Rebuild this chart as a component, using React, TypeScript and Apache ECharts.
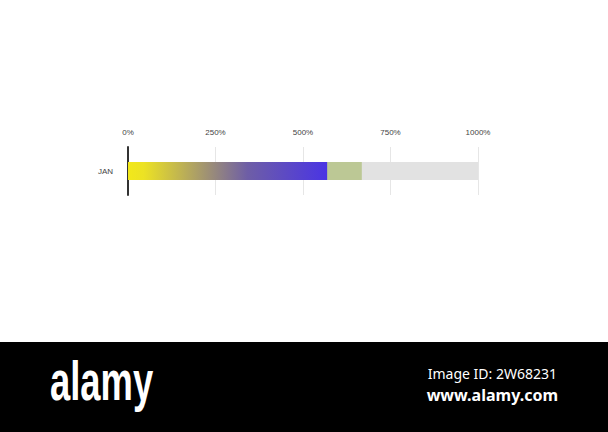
import React, { useEffect, useRef } from "react";
import * as echarts from "echarts";

const categories = ["JAN"];
const tickValues = [0, 250, 500, 750, 1000];
const totalValues = [1000];
const secondaryValues = [668];
const primaryValues = [569];

export default function App() {
  const ref = useRef<HTMLDivElement>(null);
  useEffect(() => {
    if (!ref.current) return;
    const chart = echarts.init(ref.current, null, { renderer: "svg" });
    chart.setOption({
      animation: false,
      backgroundColor: "#ffffff",
      grid: { left: 128, right: 130, top: 147, bottom: 237 },
      xAxis: {
        type: "value",
        position: "top",
        min: tickValues[0],
        max: tickValues[tickValues.length - 1],
        interval: 250,
        axisLine: { show: false },
        axisTick: { show: false },
        axisLabel: {
          formatter: (v: number) => String(v) + "%",
          fontSize: 8,
          color: "#444",
          margin: 11,
          fontFamily: "Liberation Sans, Arial, sans-serif",
        },
        splitLine: { show: true, lineStyle: { color: "#e6e6e6", width: 1 } },
      },
      yAxis: {
        type: "category",
        data: categories,
        axisLine: { show: true, lineStyle: { color: "#333", width: 2 } },
        axisTick: { show: false },
        axisLabel: {
          fontSize: 8,
          color: "#444",
          margin: 15,
          fontFamily: "Liberation Sans, Arial, sans-serif",
        },
      },
      series: [
        {
          type: "bar",
          data: totalValues,
          barWidth: 18,
          barGap: "-100%",
          itemStyle: { color: "#e2e2e2" },
          z: 1,
        },
        {
          type: "bar",
          data: secondaryValues,
          barWidth: 18,
          barGap: "-100%",
          itemStyle: { color: "#bcc895" },
          z: 2,
        },
        {
          type: "bar",
          data: primaryValues,
          barWidth: 18,
          barGap: "-100%",
          itemStyle: {
            color: new echarts.graphic.LinearGradient(0, 0, 1, 0, [
              { offset: 0, color: "#f2e81a" },
              { offset: 0.08, color: "#ece224" },
              { offset: 0.6, color: "#6e5ea6" },
              { offset: 1, color: "#4a34e4" },
            ]),
          },
          z: 3,
        },
      ],
      graphic: [
        {
          type: "rect",
          left: 0,
          top: 342,
          shape: { width: 608, height: 90 },
          style: { fill: "#000" },
          z: 10,
        },
        {
          type: "text",
          x: 50,
          y: 352,
          scaleX: 0.65,
          style: {
            text: "alamy",
            fill: "#fff",
            font: "bold 56px 'Liberation Sans', Arial, sans-serif",
          },
          z: 11,
        },
        {
          type: "text",
          x: 557,
          y: 366,
          style: {
            text: "Image ID: 2W68231",
            fill: "#fff",
            align: "right",
            font: "14px 'Noto Sans', 'DejaVu Sans', sans-serif",
          },
          z: 11,
        },
        {
          type: "text",
          x: 558,
          y: 387,
          style: {
            text: "www.alamy.com",
            fill: "#fff",
            align: "right",
            font: "bold 16px 'Noto Sans', 'DejaVu Sans', sans-serif",
          },
          z: 11,
        },
      ],
    });
    return () => chart.dispose();
  }, []);
  return (
    <div
      ref={ref}
      style={{ position: "fixed", left: 0, top: 0, width: 608, height: 432 }}
    />
  );
}
